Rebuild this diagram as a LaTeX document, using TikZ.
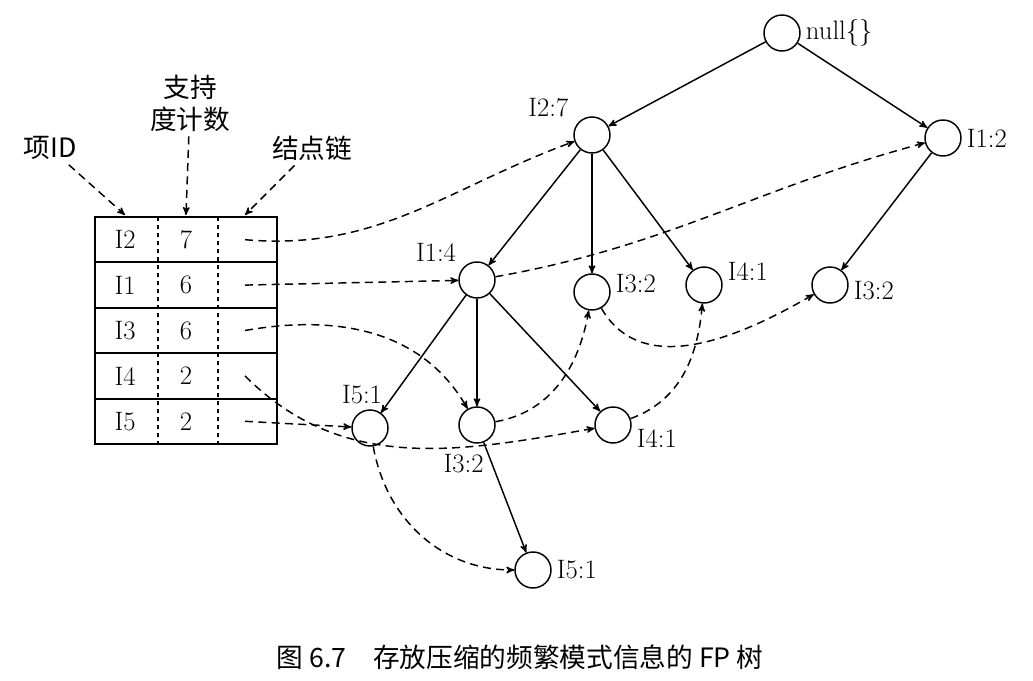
\documentclass[tikz,border=0pt]{standalone}
\usepackage{fontspec}
\newfontfamily\cjk{Noto Sans CJK SC}
\usetikzlibrary{positioning,arrows,calc}
\tikzset{fptree/.style={>=stealth',line width=1.1pt,x=0.75pt,y=-0.75pt,font=\fontsize{20}{24}\selectfont},
    item/.style={circle,draw,minimum size=27pt,inner sep=0pt},
    link/.style={->,dashed,dash pattern=on 6pt off 4pt},
    head/.style={font=\fontsize{20}{24}\cjk}}
\begin{document}
\begin{tikzpicture}[fptree]
    \useasboundingbox (0,0) rectangle (1033,681);
    % tree nodes
    \node[item](root) at (782,33)[label=right:{null\{\}}]{};
    \node[item](i27) at (592,135)[label={[xshift=-4pt]above left:I2:7}]{};
    \node[item](i12) at (943,138)[label=right:I1:2]{};
    \node[item](i14) at (477,280)[label={[xshift=-2pt]above left:I1:4}]{};
    \node[item](i32a) at (592,292)[label={[yshift=6pt]right:I3:2}]{};
    \node[item](i41a) at (704,285)[label={[yshift=10pt]right:I4:1}]{};
    \node[item](i32b) at (830,285)[label={[yshift=-4pt]right:I3:2}]{};
    \node[item](i51a) at (370,428)[label={[xshift=-6pt]above:I5:1}]{};
    \node[item](i32c) at (477,425)[label={[xshift=-10pt,yshift=-4pt]below:I3:2}]{};
    \node[item](i41b) at (613,425)[label={[yshift=-10pt]right:I4:1}]{};
    \node[item](i51b) at (533,570)[label=right:I5:1]{};

    \path[->] (root) edge (i27) (root) edge (i12)
              (i27) edge (i14) (i27) edge (i32a) (i27) edge (i41a)
              (i12) edge (i32b)
              (i14) edge (i51a) (i14) edge (i32c) (i14) edge (i41b)
              (i32c) edge (i51b);

    % header table
    \draw (95,217) rectangle (277,444);
    \foreach \y in {262,308,353,399} \draw (95,\y) -- (277,\y);
    \foreach \x in {158,218} \draw[dashed] (\x,217) -- (\x,444);
    \foreach \n/\t/\c [count=\i] in {I2/7/h2,I1/6/h1,I3/6/h3,I4/2/h4,I5/2/h5}{
        \node at (125,{217+(\i-0.5)*45.4}) {\n};
        \node at (186,{217+(\i-0.5)*45.4}) {\t};
        \coordinate (\c) at (245,{217+(\i-0.5)*45.4});
    }

    % column heads
    \node[head] (hid) at (50,148) {项ID};
    \node[head,align=center] (hsup) at (190,103) {支持\\度计数};
    \node[head] (hlink) at (312,148) {结点链};
    \coordinate (tid) at (125,215);
    \coordinate (tsup) at (186,215);
    \coordinate (tlink) at (245,215);
    \draw[link] (hid) -- (tid);
    \draw[link] (hsup) -- (tsup);
    \draw[link] (hlink) -- (tlink);

    % node links
    \draw[link] (h1) -- (i14);
    \draw[link] (h2) to[out=-5,in=200] (i27);
    \draw[link] (i14) to[out=10,in=195] (i12);
    \draw[link] (h3) to[out=10,in=120] (i32c);
    \draw[link] (i32c) to[out=10,in=-100] (i32a);
    \draw[link] (i32a) to[out=-60,in=210] (i32b);
    \draw[link] (h4) to[out=-45,in=190] (i41b);
    \draw[link] (i41b) to[out=20,in=-95] (i41a);
    \draw[link] (h5) -- (i51a);
    \draw[link] (i51a) to[out=-80,in=180] (i51b);

    % caption
    \node[head] (cap) at (520,657) {图 6.7\quad 存放压缩的频繁模式信息的 FP 树};
\end{tikzpicture}
\end{document}
